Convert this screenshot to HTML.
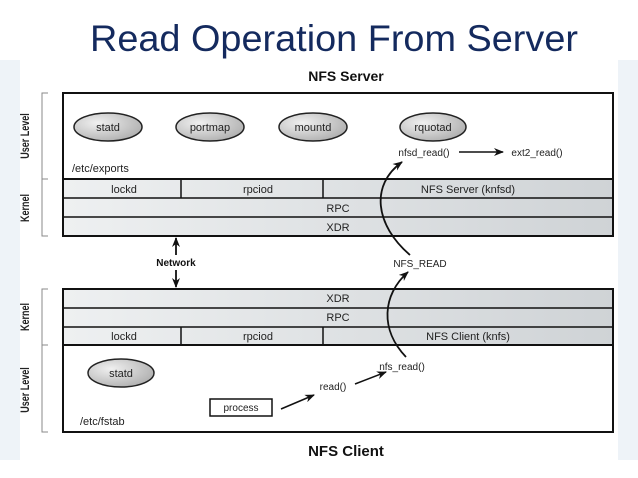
<!DOCTYPE html>
<html><head><meta charset="utf-8"><style>
html,body{margin:0;padding:0;background:#fff;}
svg{display:block;font-family:"Liberation Sans",Arial,sans-serif;}
</style></head><body>
<svg width="638" height="478" viewBox="0 0 638 478" xmlns="http://www.w3.org/2000/svg">
<defs>
<linearGradient id="row" x1="0" x2="1" y1="0" y2="0">
<stop offset="0" stop-color="#eef0f1"/><stop offset="1" stop-color="#cfd3d6"/>
</linearGradient>
<radialGradient id="ell" cx="0.35" cy="0.35" r="0.8">
<stop offset="0" stop-color="#f0f0f0"/><stop offset="1" stop-color="#a8a8a8"/>
</radialGradient>
<marker id="ah" markerWidth="10" markerHeight="8" refX="9" refY="4" orient="auto" markerUnits="userSpaceOnUse">
<path d="M0,0 L10,4 L0,8 L3,4 z" fill="#111"/>
</marker>
</defs>
<rect width="638" height="478" fill="#fff"/>
<rect x="0" y="60" width="20" height="400" fill="#eef3f8"/>
<rect x="618" y="60" width="20" height="400" fill="#eef3f8"/>
<text x="90" y="51" font-size="37" fill="#142a5e" textLength="488" lengthAdjust="spacingAndGlyphs">Read Operation From Server</text>

<text x="346" y="81" font-size="14" font-weight="bold" text-anchor="middle" fill="#111">NFS Server</text>

<!-- server box -->
<rect x="63" y="93" width="550" height="86" fill="#fff" stroke="#111" stroke-width="2"/>
<rect x="63" y="179" width="550" height="57" fill="url(#row)" stroke="#111" stroke-width="2"/>
<line x1="63" y1="198" x2="613" y2="198" stroke="#111" stroke-width="1.5"/>
<line x1="63" y1="217" x2="613" y2="217" stroke="#111" stroke-width="1.5"/>
<line x1="181" y1="179" x2="181" y2="198" stroke="#111" stroke-width="1.5"/>
<line x1="323" y1="179" x2="323" y2="198" stroke="#111" stroke-width="1.5"/>
<g font-size="11" fill="#222" text-anchor="middle">
<text x="124" y="193">lockd</text><text x="258" y="193">rpciod</text><text x="468" y="193">NFS Server (knfsd)</text>
<text x="338" y="212">RPC</text><text x="338" y="231">XDR</text>
</g>
<g stroke="#222" stroke-width="1.5" fill="url(#ell)">
<ellipse cx="108" cy="127" rx="34" ry="14"/><ellipse cx="210" cy="127" rx="34" ry="14"/>
<ellipse cx="313" cy="127" rx="34" ry="14"/><ellipse cx="433" cy="127" rx="33" ry="14"/>
</g>
<g font-size="11" fill="#222" text-anchor="middle">
<text x="108" y="131">statd</text><text x="210" y="131">portmap</text><text x="313" y="131">mountd</text><text x="433" y="131">rquotad</text>
</g>
<text x="424" y="156" font-size="10" fill="#222" text-anchor="middle">nfsd_read()</text>
<text x="537" y="156" font-size="10" fill="#222" text-anchor="middle">ext2_read()</text>
<line x1="459" y1="152" x2="503" y2="152" stroke="#111" stroke-width="1.5" marker-end="url(#ah)"/>
<text x="72" y="172" font-size="11" fill="#222">/etc/exports</text>

<!-- side labels -->
<g fill="none" stroke="#888" stroke-width="1">
<path d="M48,93 H42 V179 H48"/><path d="M42,179 V236 H48"/>
<path d="M48,289 H42 V345 H48"/><path d="M42,345 V432 H48"/>
</g>
<g font-size="12" font-weight="bold" fill="#222" text-anchor="middle">
<text transform="translate(29,136) rotate(-90) scale(0.75,1)">User Level</text>
<text transform="translate(29,208) rotate(-90) scale(0.75,1)">Kernel</text>
<text transform="translate(29,317) rotate(-90) scale(0.75,1)">Kernel</text>
<text transform="translate(29,390) rotate(-90) scale(0.75,1)">User Level</text>
</g>

<!-- network -->
<text x="176" y="266" font-size="10" font-weight="bold" fill="#111" text-anchor="middle">Network</text>
<line x1="176" y1="255" x2="176" y2="238" stroke="#111" stroke-width="1.8" marker-end="url(#ah)"/>
<line x1="176" y1="270" x2="176" y2="287" stroke="#111" stroke-width="1.8" marker-end="url(#ah)"/>
<text x="420" y="267" font-size="10" fill="#222" text-anchor="middle">NFS_READ</text>

<!-- client box -->
<rect x="63" y="289" width="550" height="56" fill="url(#row)" stroke="#111" stroke-width="2"/>
<line x1="63" y1="308" x2="613" y2="308" stroke="#111" stroke-width="1.5"/>
<line x1="63" y1="327" x2="613" y2="327" stroke="#111" stroke-width="1.5"/>
<line x1="181" y1="327" x2="181" y2="345" stroke="#111" stroke-width="1.5"/>
<line x1="323" y1="327" x2="323" y2="345" stroke="#111" stroke-width="1.5"/>
<rect x="63" y="345" width="550" height="87" fill="#fff" stroke="#111" stroke-width="2"/>
<g font-size="11" fill="#222" text-anchor="middle">
<text x="338" y="302">XDR</text><text x="338" y="321">RPC</text>
<text x="124" y="340">lockd</text><text x="258" y="340">rpciod</text><text x="468" y="340">NFS Client (knfs)</text>
</g>
<ellipse cx="121" cy="373" rx="33" ry="14" fill="url(#ell)" stroke="#222" stroke-width="1.5"/>
<text x="121" y="377" font-size="11" fill="#222" text-anchor="middle">statd</text>
<rect x="210" y="399" width="62" height="17" fill="#fff" stroke="#111" stroke-width="1.5"/>
<text x="241" y="411" font-size="10" fill="#222" text-anchor="middle">process</text>
<text x="333" y="390" font-size="10" fill="#222" text-anchor="middle">read()</text>
<text x="402" y="370" font-size="10" fill="#222" text-anchor="middle">nfs_read()</text>
<text x="80" y="425" font-size="11" fill="#222">/etc/fstab</text>
<line x1="281" y1="409" x2="314" y2="395" stroke="#111" stroke-width="1.5" marker-end="url(#ah)"/>
<line x1="355" y1="384" x2="386" y2="372" stroke="#111" stroke-width="1.5" marker-end="url(#ah)"/>

<!-- curves -->
<path d="M406,357 C380,330 382,295 408,272" fill="none" stroke="#111" stroke-width="1.8" marker-end="url(#ah)"/>
<path d="M410,255 C375,225 370,185 402,162" fill="none" stroke="#111" stroke-width="1.8" marker-end="url(#ah)"/>

<text x="346" y="456" font-size="15" font-weight="bold" fill="#111" text-anchor="middle">NFS Client</text>
</svg>
</body></html>
